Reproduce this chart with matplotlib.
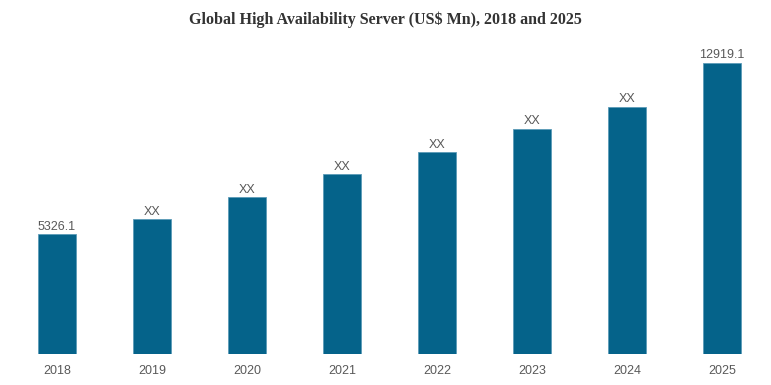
import matplotlib
matplotlib.use("Agg")
import matplotlib.pyplot as plt

years = ["2018", "2019", "2020", "2021", "2022", "2023", "2024", "2025"]
values = [5326.1, 5992, 6969, 7990, 8966, 9987, 10963, 12919.1]
labels = ["5326.1", "XX", "XX", "XX", "XX", "XX", "XX", "12919.1"]

fig = plt.figure(figsize=(7.71, 3.85), dpi=100)
ax = fig.add_axes([0.0123, 0.0805, 0.9857, 0.79])
x = range(len(years))
bars = ax.bar(x, values, width=0.4, color="#05638a", edgecolor="#5b9bb8", linewidth=0.6)
for xi, v, lab in zip(x, values, labels):
    ax.annotate(lab, (xi, v), xytext=(0, 1), textcoords="offset points",
                ha="center", va="bottom", fontsize=9, color="#595959",
                family="Liberation Sans")
ax.set_xlim(-0.5, len(years) - 0.5)
ax.set_ylim(0, 13493)
ax.set_xticks(list(x))
ax.set_xticklabels(years, fontsize=9, color="#595959", family="Liberation Sans")
ax.tick_params(axis="x", length=0, pad=8)
ax.set_yticks([])
for s in ax.spines.values():
    s.set_visible(False)
fig.text(0.5, 0.950, "Global High Availability Server (US$ Mn), 2018 and 2025",
         ha="center", va="center", fontsize=11.5, fontweight="bold",
         family="Liberation Serif", color="#333333")
fig.savefig("out.png", dpi=100)
